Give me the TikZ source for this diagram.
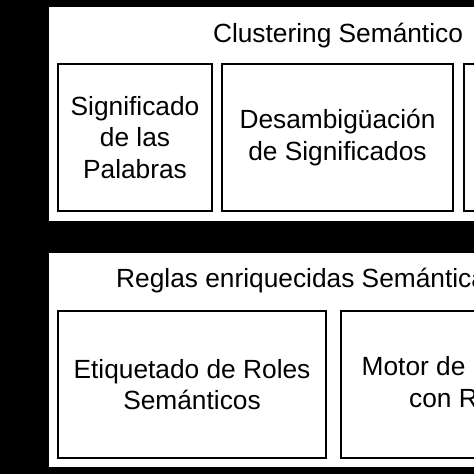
\documentclass[tikz,border=0pt]{standalone}
\usepackage{fontspec}
\setmainfont{Liberation Sans}
\begin{document}
\begin{tikzpicture}[x=1pt,y=-1pt,
  panel/.style={rectangle, fill=white, draw=none, inner sep=0pt},
  box/.style={rectangle, draw=black, fill=white, line width=1.8pt, inner sep=0pt, align=center,
    font=\fontsize{26.3}{31.5}\selectfont},
  ttl/.style={inner sep=0pt, font=\fontsize{26.3}{31.5}\selectfont}]
\useasboundingbox (0,0) rectangle (474,474);
\clip (0,0) rectangle (474,474);
\fill[black] (0,0) rectangle (474,474);
% top panel
\node[panel, minimum width=480pt, minimum height=214pt] (p1) at (289,114) {};
\node[ttl, anchor=base] (t1) at (338,42) {Clustering Semántico};
\node[box, minimum width=154pt, minimum height=147pt] (b1) at (135,137.5) {Significado\\de las\\Palabras};
\node[box, minimum width=231pt, minimum height=147pt] (b2) at (337.5,137.5) {Desambigüación\\de Significados};
\node[box, minimum width=154pt, minimum height=147pt] (b3) at (541,137.5) {};
% bottom panel
\node[panel, minimum width=480pt, minimum height=214pt] (p2) at (289,360) {};
\node[ttl, anchor=base west] (t2) at (116,287) {Reglas enriquecidas Semánticamente};
\node[box, minimum width=268pt, minimum height=147pt] (ba) at (192,384.5) {Etiquetado de Roles\\Semánticos};
\node[box, minimum width=268pt, minimum height=147pt] (bb) at (475,384.5) {Motor de Inferencia\\con Reglas};
\end{tikzpicture}
\end{document}
